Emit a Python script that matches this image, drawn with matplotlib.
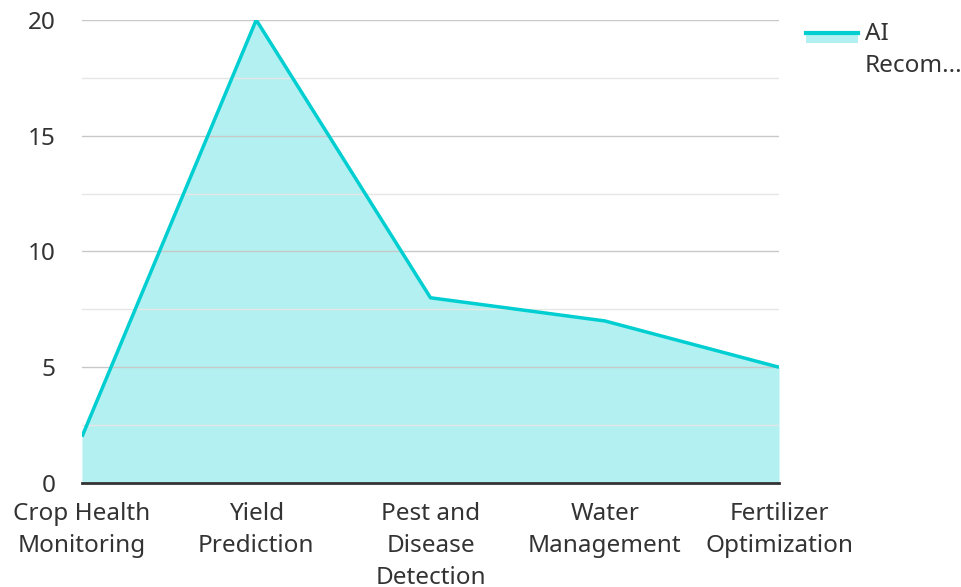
#!/usr/bin/env python3
# Area chart: AI recommendations by farming application

import matplotlib
matplotlib.use("Agg")
import matplotlib.pyplot as plt
from matplotlib.patches import Rectangle
from matplotlib.lines import Line2D
from matplotlib.ticker import MultipleLocator

# data
categories = ["Crop Health\nMonitoring", "Yield\nPrediction", "Pest and\nDisease\nDetection",
              "Water\nManagement", "Fertilizer\nOptimization"]
values = [2, 20, 8, 7, 5]
series_name = "AI\nRecom..."
yticks = [0, 5, 10, 15, 20]

line_col = "#00CED1"
text_col = "#333333"
fs = 17.5

plt.rcParams["font.family"] = ["Noto Sans", "DejaVu Sans"]


class AreaHandler:
    # legend swatch: line on top of a light filled band
    def legend_artist(self, legend, orig_handle, fontsize, handlebox):
        x0, y0 = handlebox.xdescent, handlebox.ydescent
        w, h = handlebox.width, handlebox.height
        top = y0 + h * 1.55
        band = Rectangle((x0, top - h * 0.62), w, h * 0.62, facecolor=line_col,
                         alpha=0.3, linewidth=0, transform=handlebox.get_transform())
        ln = Line2D([x0, x0 + w], [top, top], color=line_col, linewidth=3,
                    transform=handlebox.get_transform())
        handlebox.add_artist(band)
        handlebox.add_artist(ln)
        return ln


fig = plt.figure(figsize=(9.62, 5.87), dpi=100)
ax = fig.add_axes([0.0852, 0.1772, 0.7246, 0.7888])

x = list(range(len(categories)))
ax.fill_between(x, values, 0, color=line_col, alpha=0.3, linewidth=0, zorder=1)
ax.plot(x, values, color=line_col, linewidth=2.5, zorder=3, solid_capstyle="butt",
        label=series_name)

ax.set_xlim(0, len(categories) - 1)
ax.set_ylim(0, 20)
ax.yaxis.set_major_locator(MultipleLocator(5))
ax.yaxis.set_minor_locator(MultipleLocator(2.5))
ax.set_yticks(yticks)

# gridlines on top of the fill
ax.set_axisbelow(False)
ax.grid(axis="y", which="major", color="#c8c8c8", linewidth=1, zorder=2)
ax.grid(axis="y", which="minor", color="#e6e6e6", linewidth=1, zorder=2)

ax.set_xticks(x)
ax.set_xticklabels(categories, va="top", linespacing=1.42)
ax.tick_params(axis="both", which="both", length=0, labelsize=fs, labelcolor=text_col)
ax.tick_params(axis="x", pad=14)
ax.tick_params(axis="y", pad=19)

for s in ["top", "right", "left"]:
    ax.spines[s].set_visible(False)
ax.spines["bottom"].set_color(text_col)
ax.spines["bottom"].set_linewidth(2)
ax.spines["bottom"].set_zorder(4)

h, l = ax.get_legend_handles_labels()
leg = fig.legend(h, l, loc="upper left", bbox_to_anchor=(0.8156, 0.999),
                 frameon=False, fontsize=fs, handlelength=2.1, handletextpad=0.3,
                 labelcolor=text_col, handler_map={Line2D: AreaHandler()})
for t in leg.get_texts():
    t.set_linespacing(1.42)

fig.savefig("out.png", dpi=100)
